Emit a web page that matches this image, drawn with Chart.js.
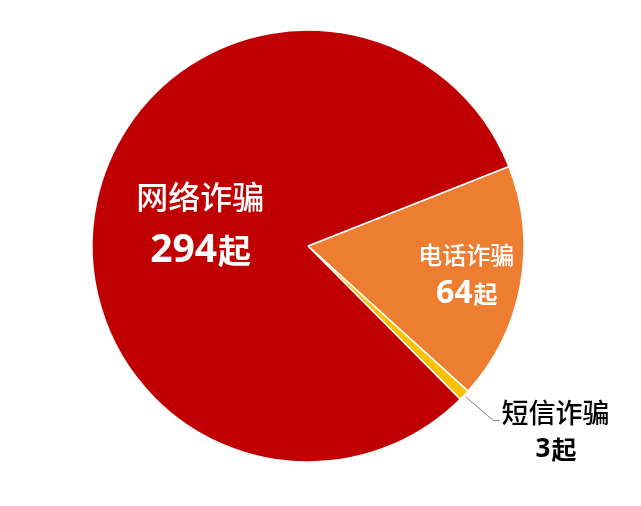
<!DOCTYPE html>
<html>
<head>
<meta charset="utf-8">
<script src="https://cdn.jsdelivr.net/npm/chart.js@4"></script>
<style>
  html, body { margin: 0; padding: 0; background: #fff; }
  #wrap { width: 641px; height: 506px; position: relative; }
</style>
</head>
<body>
<div id="wrap"><canvas id="chart" width="641" height="506"></canvas></div>
<script>
// order: phone, sms, network (clockwise from the upper right)
const categories = ["电话诈骗", "短信诈骗", "网络诈骗"];
const counts = [64, 3, 294];
const unit = "起";
const colors = ["#ED7D31", "#FFC000", "#C00000"];

const CJK = '"Noto Sans CJK SC", "Microsoft YaHei", sans-serif';
const NUM = '"Open Sans", "Noto Sans", sans-serif';

// how each slice is labelled
const labelStyle = [
  { mode: "inside", dist: 0.745, color: "#fff", nameFont: "500 24px " + CJK, numFont: "bold 32px " + NUM, unitFont: "bold 24px " + CJK, gap: 39 },
  { mode: "outside", color: "#000", nameFont: "500 27px " + CJK, numFont: "bold 26px " + NUM, unitFont: "bold 25px " + CJK, gap: 37 },
  { mode: "inside", dist: 0.51, color: "#fff", nameFont: "500 32px " + CJK, numFont: "bold 39px " + NUM, unitFont: "bold 33px " + CJK, gap: 54 },
];

function drawValue(ctx, x, y, i, st){
  const num = String(counts[i]);
  ctx.font = st.numFont;
  const wn = ctx.measureText(num).width;
  ctx.font = st.unitFont;
  const wu = ctx.measureText(unit).width;
  let left = x - (wn + wu) / 2;
  ctx.textAlign = "left";
  ctx.font = st.numFont;
  ctx.fillText(num, left, y);
  ctx.font = st.unitFont;
  ctx.fillText(unit, left + wn + 1, y);
}

const sliceLabels = {
  id: "sliceLabels",
  afterDatasetsDraw(chart){
    const ctx = chart.ctx;
    const meta = chart.getDatasetMeta(0);
    ctx.save();
    ctx.textBaseline = "middle";
    meta.data.forEach((arc, i)=>{
      const p = arc.getProps(["x","y","startAngle","endAngle","outerRadius"], true);
      const mid = (p.startAngle + p.endAngle) / 2;
      const st = labelStyle[i];
      ctx.fillStyle = st.color;
      if (st.mode === "inside"){
        const cx = p.x + Math.cos(mid) * p.outerRadius * st.dist;
        const cy = p.y + Math.sin(mid) * p.outerRadius * st.dist;
        ctx.textAlign = "center";
        ctx.font = st.nameFont;
        ctx.fillText(categories[i], cx, cy - st.gap / 2);
        drawValue(ctx, cx, cy + st.gap / 2, i, st);
      } else {
        // leader line out of the small slice
        const r0 = p.outerRadius + 2;
        const x0 = p.x + Math.cos(mid) * r0, y0 = p.y + Math.sin(mid) * r0;
        const x1 = x0 + 28, y1 = y0 + 24;
        ctx.strokeStyle = "#7f7f7f";
        ctx.lineWidth = 1;
        ctx.beginPath();
        ctx.moveTo(x0, y0);
        ctx.lineTo(x1, y1);
        ctx.lineTo(x1 + 6, y1);
        ctx.stroke();
        const tx = x1 + 62, ty = y1 - 8;
        ctx.textAlign = "center";
        ctx.font = st.nameFont;
        ctx.fillText(categories[i], tx, ty);
        drawValue(ctx, tx, ty + st.gap, i, st);
      }
    });
    ctx.restore();
  }
};

new Chart(document.getElementById("chart"), {
  type: "pie",
  data: {
    labels: categories,
    datasets: [{
      data: counts,
      backgroundColor: colors,
      borderColor: "#fff",
      borderWidth: 1.5
    }]
  },
  options: {
    responsive: false,
    animation: false,
    rotation: 68.4,
    radius: 216,
    layout: { padding: { left: 92, right: 117, top: 30, bottom: 44 } },
    plugins: { legend: { display: false }, tooltip: { enabled: false } }
  },
  plugins: [sliceLabels]
});
</script>
</body>
</html>
